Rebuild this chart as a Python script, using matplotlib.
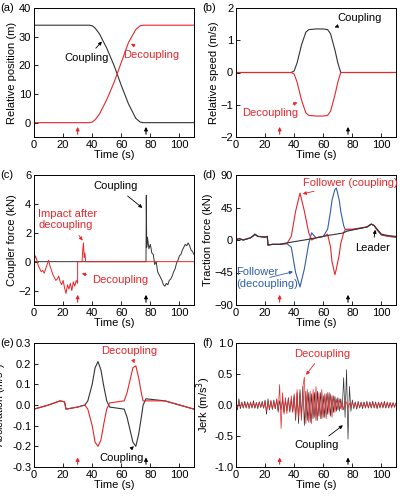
import numpy as np
import matplotlib.pyplot as plt

plt.rcParams["font.family"] = "Liberation Sans"
plt.rcParams["font.size"] = 8
RED = "#e8262a"
BLK = "#333333"
BLU = "#2f5fa8"

# (a) relative position
t_a = [0, 38, 40, 42, 45, 50, 55, 60, 65, 70, 73, 75, 110]
pos_coup = [34, 34, 33.8, 33, 31, 26, 20, 13, 6.5, 1.5, 0.2, 0, 0]
pos_dec = [0, 0, 0.2, 1, 3, 8, 14, 21, 28, 32.5, 33.8, 34, 34]

# (b) relative speed
t_b = [0, 38, 40, 42, 45, 48, 50, 55, 60, 63, 65, 68, 70, 72, 110]
spd_coup = [0, 0, 0.05, 0.3, 0.85, 1.25, 1.33, 1.35, 1.35, 1.33, 1.2, 0.7, 0.3, 0, 0]
spd_dec = [-v for v in spd_coup]

# (c) coupler force
t_c_red = list(range(0, 31)) + [30, 33, 33.5, 34, 34.5, 35, 35.5, 110]
f_dec = [0, 0.4, 0.1, -0.3, -0.5, -0.7, -0.6, -0.8, -0.5, -0.2, 0.1, -0.3, -0.6, -0.9,
         -1.1, -1.3, -1.2, -1.0, -1.4, -1.6, -1.3, -1.8, -2.2, -1.6, -1.9, -1.5, -2.0,
         -1.4, -1.7, -1.3, -1.5, 0, 0, 0.8, 1.3, 0.3, 0.6, 0, 0]
t_c_blk = [0, 77, 77.2, 77.5] + list(range(78, 111))
f_coup = [0, 0, 4.6, 1.0, 1.7, 0.9, 1.2, 0.6, 0.5, -0.2, 0, -0.7, -0.9, -1.1, -1.3, -1.6,
          -1.7, -1.5, -1.6, -1.3, -1.2, -1.0, -0.7, -0.5, -0.1, 0.1, 0.4, 0.5, 0.8, 1.0,
          1.2, 1.1, 1.3, 1.1, 0.8, 0.7, 0.5]

# (d) traction force
t_d = [0, 2, 5, 10, 12, 13, 15, 20, 21.5, 22, 25, 30, 35, 38, 41, 44, 47, 50, 52, 55, 60,
       63, 65, 66, 68, 69, 71, 72, 74, 75, 76, 80, 90, 93, 95, 97, 100, 105, 110]
leader = [0, 2, 0, 3, 6, 8, 5, 4, 5, -7, -6, -6, -4, -3, -2, -1, 0, 1, 2, 3, 5, 6, 7, 7, 8,
          8, 9, 9, 10, 11, 12, 14, 18, 22, 20, 15, 8, 6, 5]
follow_coup = [0, 2, 0, 3, 6, 8, 5, 4, 5, -7, -6, -6, -5, 5, 40, 65, 40, 10, 0, 3, 5, 8,
               -10, -30, -48, -40, -20, -5, 10, 14, 15, 15, 18, 22, 20, 14, 7, 5, 4]
follow_dec = [0, 2, 0, 3, 6, 8, 5, 4, 5, -7, -6, -6, -5, -10, -45, -65, -40, -5, 10, 3, 5,
              15, 40, 55, 70, 72, 55, 40, 20, 15, 14, 14, 18, 22, 20, 14, 7, 5, 4]

# (e) acceleration
t_e = [0, 10, 18, 21, 22, 30, 35, 37, 40, 42, 44, 46, 48, 50, 52, 62, 64, 66, 68, 70,
       72, 74, 75, 77, 90, 110]
acc_coup = [-0.02, 0.0, 0.02, 0.015, -0.02, -0.01, 0.0, 0.02, 0.1, 0.18, 0.21, 0.17, 0.09,
            0.02, -0.01, -0.02, -0.06, -0.12, -0.18, -0.2, -0.14, -0.05, 0.0, 0.03, 0.02, -0.02]
acc_dec = [-0.02, 0.0, 0.02, 0.015, -0.02, -0.01, 0.0, -0.02, -0.1, -0.18, -0.2, -0.17,
           -0.09, -0.02, 0.01, 0.02, 0.06, 0.12, 0.18, 0.19, 0.13, 0.05, 0.02, 0.02, 0.02, -0.02]

# (f) jerk, one value per second
jerk_coup = [0.05, -0.08, 0.1, -0.06, 0.04, -0.05, 0.06, -0.04, 0.05, -0.06, 0.04, -0.05, 0.07,
             -0.05, 0.04, -0.06, 0.05, -0.04, 0.06, -0.05,
             0.08, -0.15, 0.1, -0.08, 0.06, -0.07, 0.08, -0.06, 0.09, -0.1, 0.07, -0.08, 0.1,
             -0.12, 0.08, -0.09, 0.12, -0.1, 0.08, -0.12,
             0.15, -0.25, 0.2, -0.3, 0.25, -0.2, 0.3, -0.33, 0.22, -0.25, 0.2, -0.28, 0.18,
             -0.22, 0.2, -0.25, 0.22, -0.18, 0.2, -0.22, 0.15, -0.2, 0.18, -0.15, 0.2, -0.18,
             0.15, -0.12, 0.14, -0.1, 0.12, -0.1, 0.1, -0.08, 0.44, -0.2,
             0.57, -0.55, 0.3, -0.1, 0.08, -0.06, 0.05, -0.07, 0.06, -0.05, 0.04, -0.06, 0.05,
             -0.04, 0.06, -0.05, 0.04, -0.05, 0.06, -0.04, 0.05, -0.06, 0.04, -0.05, 0.05,
             -0.04, 0.06, -0.05, 0.04, -0.05, 0.04, -0.03, 0.04, -0.03, 0.03]
jerk_dec = [0.03, -0.05, 0.04, -0.03, 0.05, -0.04, 0.03, -0.05, 0.04, -0.03, 0.05, -0.04, 0.03,
            -0.05, 0.04, -0.03, 0.05, -0.04, 0.03, -0.05,
            0.06, -0.1, 0.05, -0.06, 0.08, -0.07, 0.05, -0.06, 0.1, -0.12, 0.33, -0.38, 0.2,
            -0.15, 0.12, -0.14, 0.1, -0.12, 0.15, -0.1,
            0.18, -0.2, 0.25, -0.22, 0.2, -0.25, 0.3, 0.45, -0.3, 0.25, -0.28, 0.22, -0.3,
            0.25, -0.2, 0.3, -0.25, 0.2, -0.22, 0.25, -0.2, 0.18, -0.22, 0.2, -0.15, 0.18,
            -0.2, 0.15, -0.12, 0.1, -0.08, 0.1, -0.06, 0.05, -0.08, 0.06,
            0.04, -0.05, 0.03, -0.04, 0.05, -0.03, 0.04, -0.05, 0.03, -0.04, 0.05, -0.03, 0.04,
            -0.05, 0.03, -0.04, 0.05, -0.03, 0.04, -0.05, 0.03, -0.04, 0.05, -0.03, 0.04,
            -0.05, 0.03, -0.04, 0.05, -0.03, 0.04, -0.05, 0.03, -0.04, 0.03]
t_f = np.arange(len(jerk_coup))

fig = plt.figure(figsize=(4, 5), dpi=100)
lefts = [0.085, 0.59]
rows = [(0.726, 0.258), (0.39, 0.26), (0.066, 0.248)]
axes = []
for b, h in rows:
    for l in lefts:
        ax = fig.add_axes([l, b, 0.4, h])
        ax.set_xlim(0, 110)
        ax.set_xticks([0, 20, 40, 60, 80, 100])
        ax.tick_params(direction="in", length=3, width=0.6, labelsize=8, pad=2)
        for s in ax.spines.values():
            s.set_linewidth(0.7)
        ax.set_xlabel("Time (s)", labelpad=0)
        axes.append(ax)
ax_a, ax_b, ax_c, ax_d, ax_e, ax_f = axes

for ax, lab in zip(axes, "abcdef"):
    fig.text(ax.get_position().x0 - 0.085, ax.get_position().y1, f"({lab})",
             fontsize=8, va="center")


def marks(ax):
    for x, c in [(30, RED), (77, "black")]:
        ax.annotate("", xy=(x, 0.1), xytext=(x, 0.0),
                    xycoords=("data", "axes fraction"),
                    arrowprops=dict(arrowstyle="-|>", color=c, lw=0.8, mutation_scale=5))


def note(ax, text, xy, xyt, c, **kw):
    ax.annotate(text, xy=xy, xytext=xyt, color=c, fontsize=8,
                arrowprops=dict(arrowstyle="-|>", color=c, lw=0.6, mutation_scale=5), **kw)


ax_a.plot(t_a, pos_coup, color=BLK, lw=0.8)
ax_a.plot(t_a, pos_dec, color=RED, lw=0.8)
ax_a.set_ylim(-5, 40)
ax_a.set_yticks([0, 10, 20, 30, 40])
ax_a.set_ylabel("Relative position (m)", labelpad=1)
note(ax_a, "Coupling", (48, 29), (21, 21.5), "black")
note(ax_a, "Decoupling", (65, 28), (61, 22.5), RED)
marks(ax_a)

ax_b.plot(t_b, spd_coup, color=BLK, lw=0.8)
ax_b.plot(t_b, spd_dec, color=RED, lw=0.8)
ax_b.set_ylim(-2, 2)
ax_b.set_yticks([-2, -1, 0, 1, 2])
ax_b.set_ylabel("Relative speed (m/s)", labelpad=1)
note(ax_b, "Coupling", (66, 1.37), (70, 1.6), "black")
note(ax_b, "Decoupling", (44, -0.9), (4, -1.35), RED)
marks(ax_b)

ax_c.plot(t_c_blk, f_coup, color=BLK, lw=0.7)
ax_c.plot(t_c_red, f_dec, color=RED, lw=0.7)
ax_c.set_ylim(-3, 6)
ax_c.set_yticks([-2, 0, 2, 4, 6])
ax_c.set_ylabel("Coupler force (kN)", labelpad=1)
note(ax_c, "Coupling", (76, 3.6), (41, 5.0), "black")
note(ax_c, "Impact after\ndecoupling", (34.5, 1.3), (3, 2.3), RED)
note(ax_c, "Decoupling", (31, -0.8), (40, -1.5), RED)
marks(ax_c)

ax_d.plot(t_d, follow_dec, color=BLU, lw=0.8)
ax_d.plot(t_d, follow_coup, color=RED, lw=0.8)
ax_d.plot(t_d, leader, color=BLK, lw=0.8)
ax_d.set_ylim(-90, 90)
ax_d.set_yticks([-90, -45, 0, 45, 90])
ax_d.set_ylabel("Traction force (kN)", labelpad=1)
note(ax_d, "Follower (coupling)", (44, 63), (46, 75), RED)
note(ax_d, "Leader", (96, 18), (82, -15), "black")
note(ax_d, "Follower\n(decoupling)", (41, -43), (0, -65), BLU)
marks(ax_d)

ax_e.plot(t_e, acc_coup, color=BLK, lw=0.8)
ax_e.plot(t_e, acc_dec, color=RED, lw=0.8)
ax_e.set_ylim(-0.3, 0.3)
ax_e.set_yticks([-0.3, -0.2, -0.1, 0.0, 0.1, 0.2, 0.3])
ax_e.set_yticklabels(["-0.3", "-0.2", "-0.1", "0.0", "0.1", "0.2", "0.3"])
ax_e.set_ylabel("Accleration (m/s$^2$)", fontsize=7.5)
ax_e.yaxis.set_label_coords(-0.16, 0.5)
note(ax_e, "Decoupling", (70, 0.19), (46, 0.245), RED)
note(ax_e, "Coupling", (70, -0.19), (45, -0.27), "black")
marks(ax_e)

ax_f.plot(t_f, jerk_coup, color=BLK, lw=0.5)
ax_f.plot(t_f, jerk_dec, color=RED, lw=0.5)
ax_f.set_ylim(-1, 1)
ax_f.set_yticks([-1.0, -0.5, 0.0, 0.5, 1.0])
ax_f.set_yticklabels(["-1.0", "-0.5", "0.0", "0.5", "1.0"])
ax_f.set_ylabel("Jerk (m/s$^3$)", labelpad=1)
note(ax_f, "Decoupling", (47, 0.45), (40, 0.78), RED)
note(ax_f, "Coupling", (75, -0.3), (40, -0.7), "black")
marks(ax_f)

fig.savefig("out.png", dpi=100)
